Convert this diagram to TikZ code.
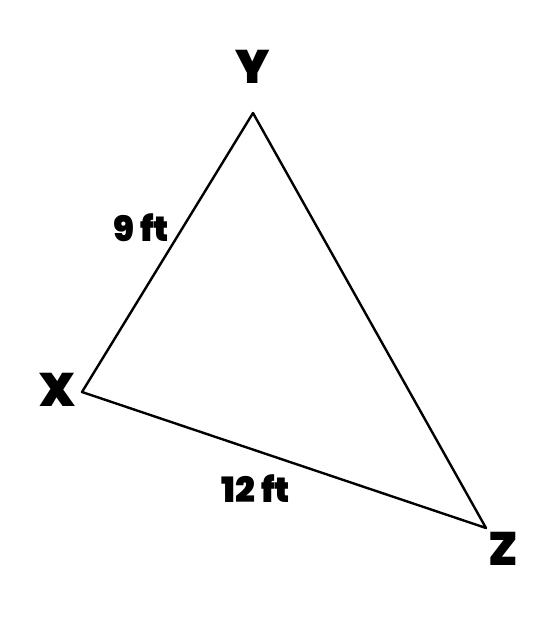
\documentclass[tikz,border=0pt]{standalone}
\usepackage{fontspec}
\setmainfont{Poppins}[UprightFont=* Black,BoldFont=* Black]
\begin{document}
\begin{tikzpicture}[x=1pt,y=-1pt,line join=round,line cap=round,
  vlabel/.style={font=\fontsize{47}{47}\selectfont},
  slabel/.style={font=\fontsize{35}{35}\selectfont}]
\useasboundingbox (0,0) rectangle (547,626);
\coordinate (X) at (82,392);
\coordinate (Y) at (253,113);
\coordinate (Z) at (486,528);
\draw[line width=2.4pt] (X) -- (Y) -- (Z) -- cycle;
\node[vlabel] (labY) at (253,67) {Y};
\node[vlabel] (labX) at (57,390) {X};
\node[vlabel] (labZ) at (503,549) {Z};
\node[slabel] (sideXY) at (141,228) {9 ft};
\node[slabel] (sideXZ) at (256,489) {12 ft};
\end{tikzpicture}
\end{document}
